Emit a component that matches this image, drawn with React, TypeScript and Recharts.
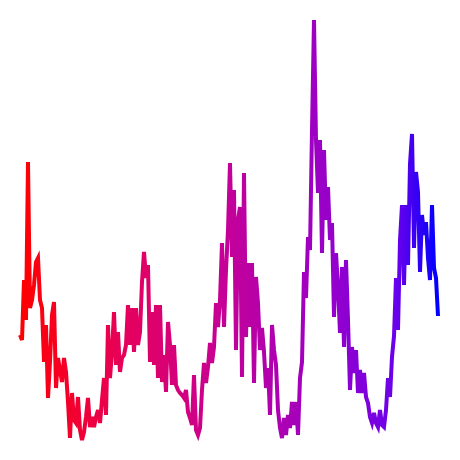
import React from 'react';
import { LineChart, Line, XAxis, YAxis } from 'recharts';

// Series values (arbitrary activity units), evenly spaced in time
const values: number[] = [
  105, 100, 160, 120, 278, 132, 140, 155, 178, 182,
  140, 132, 78, 115, 42, 78, 125, 138, 52, 82,
  70, 58, 82, 68, 38, 2, 47, 20, 17, 43,
  10, 0, 8, 23, 42, 13, 23, 13, 23, 30,
  17, 40, 62, 25, 115, 62, 88, 128, 75, 108,
  68, 82, 85, 95, 135, 95, 132, 88, 132, 95,
  108, 158, 188, 162, 175, 78, 128, 75, 135, 62,
  135, 58, 85, 48, 118, 95, 55, 95, 55, 50,
  47, 45, 42, 50, 28, 22, 15, 65, 10, 5,
  12, 50, 77, 57, 73, 97, 77, 93, 137, 113,
  140, 197, 113, 170, 210, 277, 183, 250, 90, 220,
  233, 63, 267, 103, 177, 113, 177, 57, 163, 137,
  90, 112, 88, 52, 72, 25, 115, 90, 75, 30,
  12, 2, 22, 5, 25, 12, 38, 15, 38, 5,
  62, 78, 168, 142, 203, 190, 310, 420, 300, 247,
  300, 187, 290, 220, 253, 200, 217, 123, 187, 153,
  107, 173, 93, 180, 120, 50, 93, 67, 90, 47,
  70, 47, 67, 43, 37, 23, 17, 27, 17, 13,
  30, 15, 13, 30, 62, 43, 83, 104, 162, 110,
  200, 235, 155, 235, 175, 276, 306, 192, 268, 248,
  168, 225, 205, 218, 182, 160, 235, 172, 162, 124,
];

const steps: number[] = values.map((_, i) => i);
const data = steps.map((s, i) => ({ t: s, v: values[i] }));

const gradientStops: { offset: string; color: string }[] = [
  { offset: '0%', color: '#ff0000' },
  { offset: '25%', color: '#e6005c' },
  { offset: '50%', color: '#c4009a' },
  { offset: '75%', color: '#9500cc' },
  { offset: '90%', color: '#6a00ec' },
  { offset: '100%', color: '#0000ff' },
];

export default function App() {
  return (
    <div style={{ position: 'absolute', left: 0, top: 0 }}>
      <LineChart
        width={460}
        height={460}
        data={data}
        margin={{ top: 20, right: 22, bottom: 20, left: 20 }}
      >
        <defs>
          <linearGradient id="lineGrad" x1="0" y1="0" x2="1" y2="0">
            {gradientStops.map((s) => (
              <stop key={s.offset} offset={s.offset} stopColor={s.color} />
            ))}
          </linearGradient>
        </defs>
        <XAxis dataKey="t" hide />
        <YAxis hide domain={[0, 420]} />
        <Line
          type="linear"
          dataKey="v"
          stroke="url(#lineGrad)"
          strokeWidth={4}
          dot={false}
          activeDot={false}
          isAnimationActive={false}
        />
      </LineChart>
    </div>
  );
}
